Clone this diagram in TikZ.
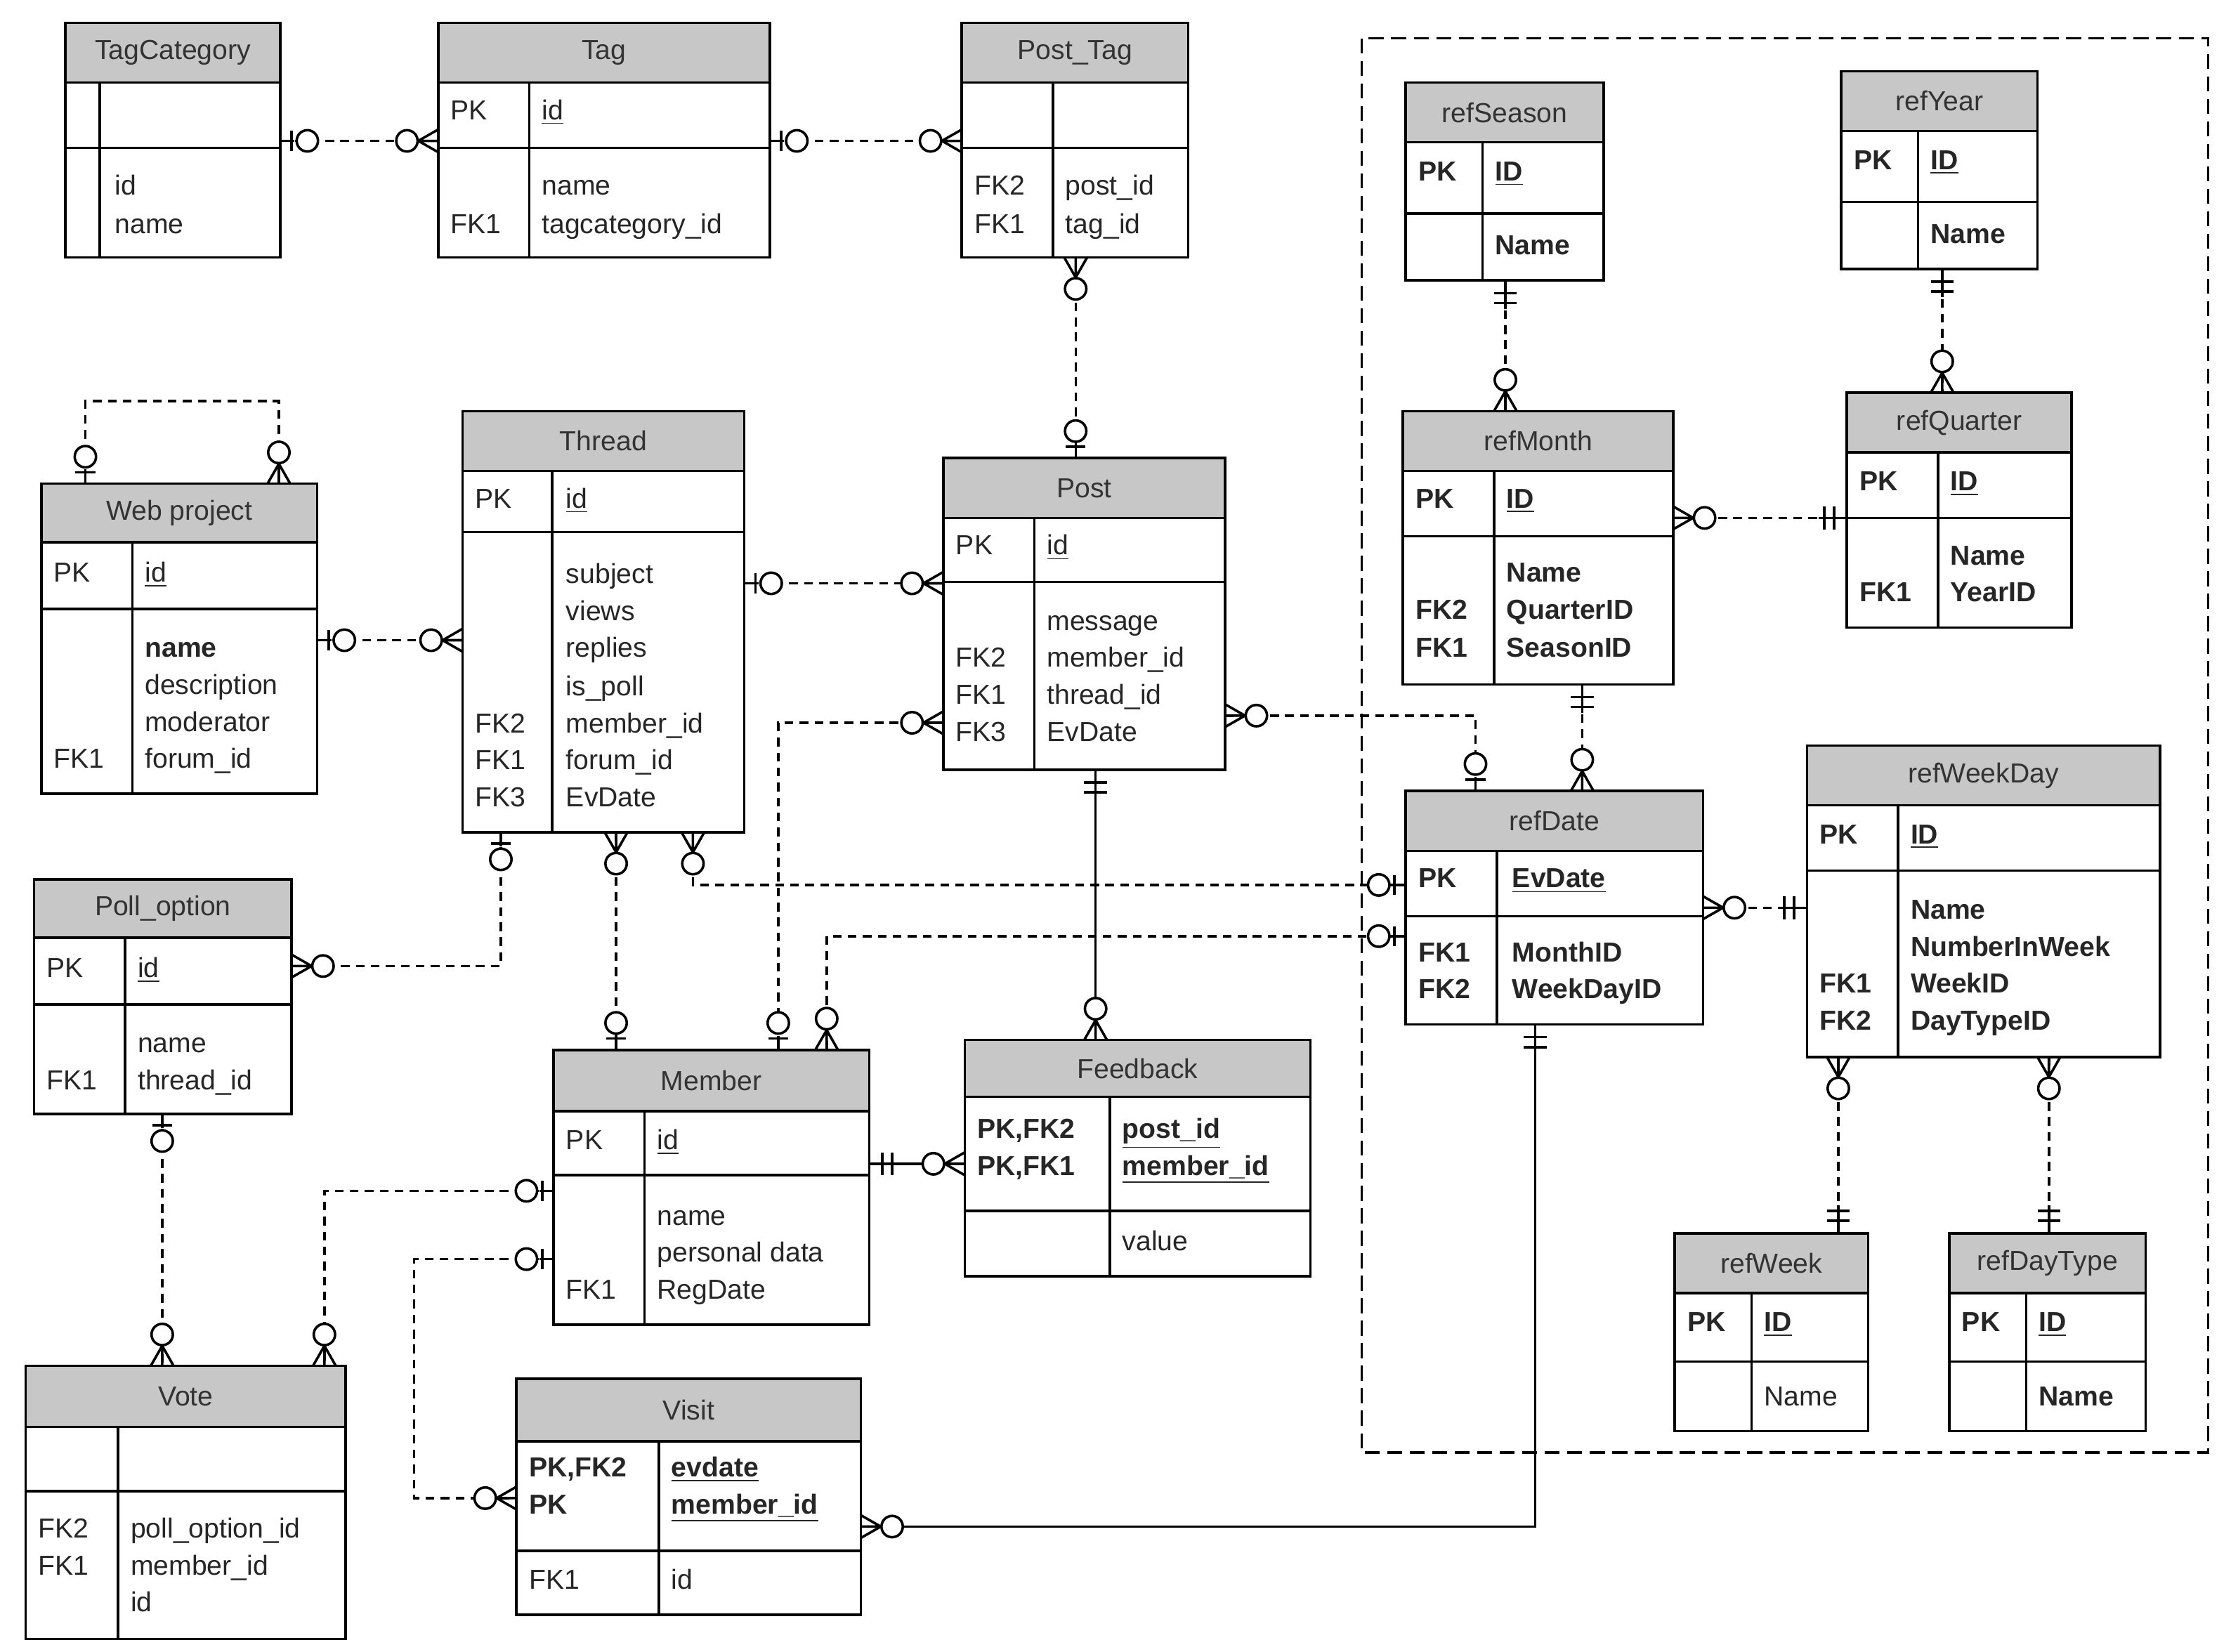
\documentclass[tikz,border=0pt]{standalone}
\usepackage{fontspec}
\setmainfont{Liberation Sans}
\usetikzlibrary{calc}
\newcommand\tab[9]{%
 \fill[black!22] (#2,#3) rectangle (#4,#6);
 \pgfmathsetmacro\tw{(#4-#2)*0.02}\pgfmathsetmacro\th{(#5-#3)*0.02}%
 \node[tbl,minimum width=\tw cm,minimum height=\th cm] (#1) at (#2,#3) {};
 \draw (#2,#6)--(#4,#6) (#2,#7)--(#4,#7) (#8,#6)--(#8,#5);
 \node[inner sep=0,text=black!80] (#1-t) at ({(#2+#4)/2},{(#3+#6)/2}) {#9};}
\newcommand\mkoo{\draw (0,0)--(10,0) (8,-7)--(8,7); \draw[fill=white] (19,0) circle[radius=0.15cm];}
\newcommand\mkmo{\draw (0,-8)--(14,0)--(0,8) (0,0)--(14,0); \draw[fill=white] (22,0) circle[radius=0.15cm];}
\newcommand\mkii{\draw (0,0)--(20,0) (9,-8)--(9,8) (16,-8)--(16,8);}
\newcommand\mk[3]{\begin{scope}[shift={(#2)},rotate=#3,solid]\csname mk#1\endcsname\end{scope}}
\begin{document}
\begin{tikzpicture}[x=0.02cm,y=-0.02cm,line width=1pt,font=\fontsize{11}{13}\selectfont,
 tbl/.style={draw,inner sep=0,outer sep=0,anchor=north west},
 t/.style={anchor=base west,inner sep=0,text=black!85},
 b/.style={t,font=\fontsize{11}{13}\selectfont\bfseries},
 rel/.style={dash pattern=on 3.5pt off 2.5pt}]
\useasboundingbox (0,0) rectangle (1568,1161);
\draw[dash pattern=on 6pt off 3pt] (957,27) rectangle (1552,1021);
% tables
\tab{tagcategory}{46}{16}{197}{181}{58}{104}{70}{TagCategory}
\node[t] at (80,137) {id}; \node[t] at (80,164) {name};
\tab{tag}{308}{16}{541}{181}{58}{104}{372}{Tag}
\node[t] at (316,84) {PK}; \node[t] at (380,84) {\underline{id}};
\node[t] at (380,137) {name}; \node[t] at (316,164) {FK1}; \node[t] at (380,164) {tagcategory\_id};
\tab{posttag}{676}{16}{835}{181}{58}{104}{740}{Post\_Tag}
\node[t] at (684,137) {FK2}; \node[t] at (748,137) {post\_id};
\node[t] at (684,164) {FK1}; \node[t] at (748,164) {tag\_id};
\tab{webproject}{29}{340}{223}{558}{381}{428}{93}{Web project}
\node[t] at (37,409) {PK}; \node[t] at (101,409) {\underline{id}};
\node[b] at (101,462) {name}; \node[t] at (101,488) {description}; \node[t] at (101,514) {moderator};
\node[t] at (37,540) {FK1}; \node[t] at (101,540) {forum\_id};
\tab{thread}{325}{289}{523}{585}{331}{374}{388}{Thread}
\node[t] at (333,357) {PK}; \node[t] at (397,357) {\underline{id}};
\node[t] at (397,410) {subject}; \node[t] at (397,436) {views}; \node[t] at (397,462) {replies};
\node[t] at (397,489) {is\_poll};
\node[t] at (333,515) {FK2}; \node[t] at (397,515) {member\_id};
\node[t] at (333,541) {FK1}; \node[t] at (397,541) {forum\_id};
\node[t] at (333,567) {FK3}; \node[t] at (397,567) {EvDate};
\tab{post}{663}{322}{861}{541}{364}{409}{727}{Post}
\node[t] at (671,390) {PK}; \node[t] at (735,390) {\underline{id}};
\node[t] at (735,443) {message};
\node[t] at (671,469) {FK2}; \node[t] at (735,469) {member\_id};
\node[t] at (671,495) {FK1}; \node[t] at (735,495) {thread\_id};
\node[t] at (671,521) {FK3}; \node[t] at (735,521) {EvDate};
\tab{polloption}{24}{618}{205}{783}{659}{706}{88}{Poll\_option}
\node[t] at (32,687) {PK}; \node[t] at (96,687) {\underline{id}};
\node[t] at (96,740) {name}; \node[t] at (32,766) {FK1}; \node[t] at (96,766) {thread\_id};
\tab{member}{389}{738}{611}{931}{781}{826}{453}{Member}
\node[t] at (397,808) {PK}; \node[t] at (461,808) {\underline{id}};
\node[t] at (461,861) {name}; \node[t] at (461,887) {personal data};
\node[t] at (397,913) {FK1}; \node[t] at (461,913) {RegDate};
\tab{feedback}{678}{731}{921}{897}{771}{851}{780}{Feedback}
\node[b] at (686,800) {PK,FK2}; \node[b] at (788,800) {\underline{post\_id}};
\node[b] at (686,826) {PK,FK1}; \node[b] at (788,826) {\underline{member\_id}};
\node[t] at (788,879) {value};
\tab{vote}{18}{960}{243}{1152}{1003}{1048}{83}{Vote}
\node[t] at (26,1081) {FK2}; \node[t] at (91,1081) {poll\_option\_id};
\node[t] at (26,1107) {FK1}; \node[t] at (91,1107) {member\_id};
\node[t] at (91,1133) {id};
\tab{visit}{363}{969}{605}{1135}{1013}{1090}{463}{Visit}
\node[b] at (371,1038) {PK,FK2}; \node[b] at (471,1038) {\underline{evdate}};
\node[b] at (371,1064) {PK}; \node[b] at (471,1064) {\underline{member\_id}};
\node[t] at (371,1117) {FK1}; \node[t] at (471,1117) {id};
\tab{refseason}{988}{58}{1127}{197}{100}{150}{1042}{refSeason}
\node[b] at (996,127) {PK}; \node[b] at (1050,127) {\underline{ID}}; \node[b] at (1050,179) {Name};
\tab{refyear}{1294}{50}{1432}{189}{92}{142}{1348}{refYear}
\node[b] at (1302,119) {PK}; \node[b] at (1356,119) {\underline{ID}}; \node[b] at (1356,171) {Name};
\tab{refmonth}{986}{289}{1176}{481}{331}{377}{1050}{refMonth}
\node[b] at (994,357) {PK}; \node[b] at (1058,357) {\underline{ID}};
\node[b] at (1058,409) {Name};
\node[b] at (994,435) {FK2}; \node[b] at (1058,435) {QuarterID};
\node[b] at (994,462) {FK1}; \node[b] at (1058,462) {SeasonID};
\tab{refquarter}{1298}{276}{1456}{441}{318}{364}{1362}{refQuarter}
\node[b] at (1306,345) {PK}; \node[b] at (1370,345) {\underline{ID}};
\node[b] at (1370,397) {Name}; \node[b] at (1306,423) {FK1}; \node[b] at (1370,423) {YearID};
\tab{refdate}{988}{556}{1197}{720}{598}{644}{1052}{refDate}
\node[b] at (996,624) {PK}; \node[b] at (1062,624) {\underline{EvDate}};
\node[b] at (996,676) {FK1}; \node[b] at (1062,676) {MonthID};
\node[b] at (996,702) {FK2}; \node[b] at (1062,702) {WeekDayID};
\tab{refweekday}{1270}{524}{1518}{743}{566}{612}{1334}{refWeekDay}
\node[b] at (1278,593) {PK}; \node[b] at (1342,593) {\underline{ID}};
\node[b] at (1342,646) {Name}; \node[b] at (1342,672) {NumberInWeek};
\node[b] at (1278,698) {FK1}; \node[b] at (1342,698) {WeekID};
\node[b] at (1278,724) {FK2}; \node[b] at (1342,724) {DayTypeID};
\tab{refweek}{1177}{867}{1313}{1006}{909}{957}{1231}{refWeek}
\node[b] at (1185,936) {PK}; \node[b] at (1239,936) {\underline{ID}}; \node[t] at (1239,988) {Name};
\tab{refdaytype}{1370}{867}{1508}{1006}{909}{957}{1424}{refDayType}
\node[b] at (1378,936) {PK}; \node[b] at (1432,936) {\underline{ID}}; \node[b] at (1432,988) {Name};
% connectors
\draw[rel] (tagcategory.east |- 0,99) -- (tag.west |- 0,99);
\draw[rel] (tag.east |- 0,99) -- (posttag.west |- 0,99);
\draw[rel] (posttag.south -| 756,0) -- (post.north -| 756,0);
\draw[rel] (webproject.north -| 60,0) -- (60,282) -- (196,282) -- (webproject.north -| 196,0);
\draw[rel] (webproject.east |- 0,450) -- (thread.west |- 0,450);
\draw[rel] (thread.east |- 0,410) -- (post.west |- 0,410);
\draw[rel] (post.west |- 0,508) -- (547,508) -- (member.north -| 547,0);
\draw[rel] (post.east |- 0,503) -- (1037,503) -- (refdate.north -| 1037,0);
\draw[rel] (thread.south -| 352,0) -- (352,679) -- (polloption.east |- 0,679);
\draw[rel] (thread.south -| 433,0) -- (member.north -| 433,0);
\draw[rel] (thread.south -| 487,0) -- (487,622) -- (refdate.west |- 0,622);
\draw[rel] (member.north -| 581,0) -- (581,658) -- (refdate.west |- 0,658);
\draw (post.south -| 770,0) -- (feedback.north -| 770,0);
\draw (member.east |- 0,818) -- (feedback.west |- 0,818);
\draw[rel] (polloption.south -| 114,0) -- (vote.north -| 114,0);
\draw[rel] (member.west |- 0,837) -- (228,837) -- (vote.north -| 228,0);
\draw[rel] (member.west |- 0,885) -- (291,885) -- (291,1053) -- (visit.west |- 0,1053);
\draw (refdate.south -| 1079,0) -- (1079,1073) -- (visit.east |- 0,1073);
\draw[rel] (refseason.south -| 1058,0) -- (refmonth.north -| 1058,0);
\draw[rel] (refyear.south -| 1365,0) -- (refquarter.north -| 1365,0);
\draw[rel] (refmonth.east |- 0,364) -- (refquarter.west |- 0,364);
\draw[rel] (refmonth.south -| 1112,0) -- (refdate.north -| 1112,0);
\draw[rel] (refdate.east |- 0,638) -- (refweekday.west |- 0,638);
\draw[rel] (refweekday.south -| 1292,0) -- (refweek.north -| 1292,0);
\draw[rel] (refweekday.south -| 1440,0) -- (refdaytype.north -| 1440,0);
% end marks
\mk{oo}{tagcategory.east |- 0,99}{0} \mk{mo}{tag.west |- 0,99}{180}
\mk{oo}{tag.east |- 0,99}{0} \mk{mo}{posttag.west |- 0,99}{180}
\mk{mo}{posttag.south -| 756,0}{-90} \mk{oo}{post.north -| 756,0}{90}
\mk{oo}{webproject.north -| 60,0}{90} \mk{mo}{webproject.north -| 196,0}{90}
\mk{oo}{webproject.east |- 0,450}{0} \mk{mo}{thread.west |- 0,450}{180}
\mk{oo}{thread.east |- 0,410}{0} \mk{mo}{post.west |- 0,410}{180}
\mk{mo}{post.west |- 0,508}{180} \mk{oo}{member.north -| 547,0}{90}
\mk{mo}{post.east |- 0,503}{0} \mk{oo}{refdate.north -| 1037,0}{90}
\mk{oo}{thread.south -| 352,0}{-90} \mk{mo}{polloption.east |- 0,679}{0}
\mk{mo}{thread.south -| 433,0}{-90} \mk{oo}{member.north -| 433,0}{90}
\mk{mo}{thread.south -| 487,0}{-90} \mk{oo}{refdate.west |- 0,622}{180}
\mk{mo}{member.north -| 581,0}{90} \mk{oo}{refdate.west |- 0,658}{180}
\mk{ii}{post.south -| 770,0}{-90} \mk{mo}{feedback.north -| 770,0}{90}
\mk{ii}{member.east |- 0,818}{0} \mk{mo}{feedback.west |- 0,818}{180}
\mk{oo}{polloption.south -| 114,0}{-90} \mk{mo}{vote.north -| 114,0}{90}
\mk{oo}{member.west |- 0,837}{180} \mk{mo}{vote.north -| 228,0}{90}
\mk{oo}{member.west |- 0,885}{180} \mk{mo}{visit.west |- 0,1053}{180}
\mk{ii}{refdate.south -| 1079,0}{-90} \mk{mo}{visit.east |- 0,1073}{0}
\mk{ii}{refseason.south -| 1058,0}{-90} \mk{mo}{refmonth.north -| 1058,0}{90}
\mk{ii}{refyear.south -| 1365,0}{-90} \mk{mo}{refquarter.north -| 1365,0}{90}
\mk{mo}{refmonth.east |- 0,364}{0} \mk{ii}{refquarter.west |- 0,364}{180}
\mk{ii}{refmonth.south -| 1112,0}{-90} \mk{mo}{refdate.north -| 1112,0}{90}
\mk{mo}{refdate.east |- 0,638}{0} \mk{ii}{refweekday.west |- 0,638}{180}
\mk{mo}{refweekday.south -| 1292,0}{-90} \mk{ii}{refweek.north -| 1292,0}{90}
\mk{mo}{refweekday.south -| 1440,0}{-90} \mk{ii}{refdaytype.north -| 1440,0}{90}
\end{tikzpicture}
\end{document}
